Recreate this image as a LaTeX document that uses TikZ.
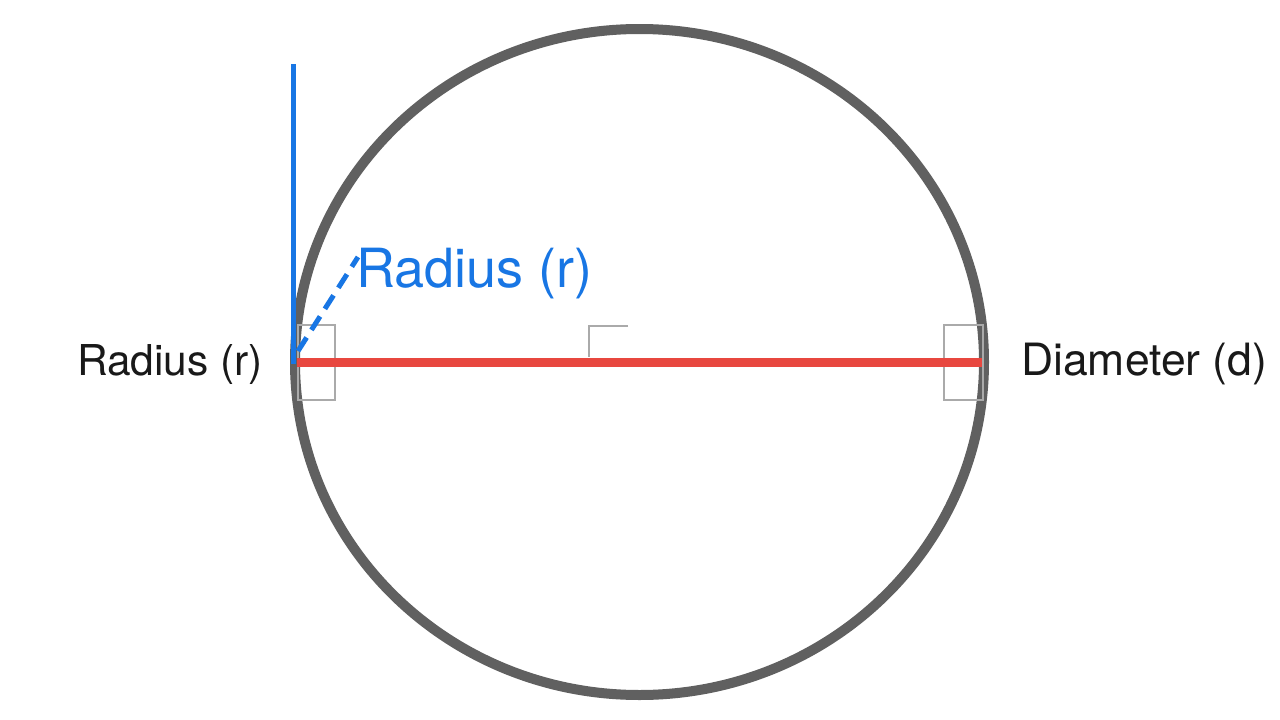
\documentclass[tikz,border=0pt]{standalone}
\usepackage{fontspec}
\setmainfont{TeX Gyre Heros}
\definecolor{ringgray}{RGB}{96,96,96}
\definecolor{diamred}{RGB}{232,71,63}
\definecolor{radblue}{RGB}{24,118,228}
\definecolor{boxgray}{RGB}{170,170,170}
\begin{document}
\begin{tikzpicture}[x=1pt,y=-1pt,
  ring/.style={draw=ringgray,line width=10pt},
  diamline/.style={draw=diamred,line width=9pt},
  radline/.style={draw=radblue,line width=5.5pt},
  raddash/.style={draw=radblue,line width=5pt,dash pattern=on 16pt off 9pt},
  markbox/.style={draw=boxgray,line width=2.5pt},
  lbl/.style={inner sep=0pt,anchor=base west,font=\fontsize{42.5}{48}\selectfont,text=black!90},
  bluelbl/.style={inner sep=0pt,anchor=base west,font=\fontsize{54}{60}\selectfont,text=radblue}]
\useasboundingbox (0,0) rectangle (1280,720);
\fill[white] (0,0) rectangle (1280,720);
% circle
\coordinate (c) at (639.5,362);
\draw[ring] (c) ellipse [x radius=344.5, y radius=333];
% right-angle style marks
\draw[markbox] (298,325) rectangle (335,400);
\draw[markbox] (944,325) rectangle (983,400);
\draw[markbox] (628,326) -- (589,326) -- (589,357);
% diameter
\coordinate (dL) at (297,362);
\coordinate (dR) at (982,362);
\draw[diamline] (dL) -- (dR);
% radius vertical
\coordinate (rTop) at (293.5,64);
\coordinate (rBot) at (293.5,364);
\draw[radline] (rTop) -- (rBot);
% labels
\node[lbl] (radL) at (77,375) {Radius (r)};
\node[lbl,font=\fontsize{44.5}{50}\selectfont] (diam) at (1021,375) {Diameter (d)};
\node[bluelbl] (radB) at (356,287) {Radius (r)};
% dashed leader
\coordinate (dashS) at (298,351);
\coordinate (dashE) at (358,257);
\draw[raddash] (dashS) -- (dashE);
\end{tikzpicture}
\end{document}
